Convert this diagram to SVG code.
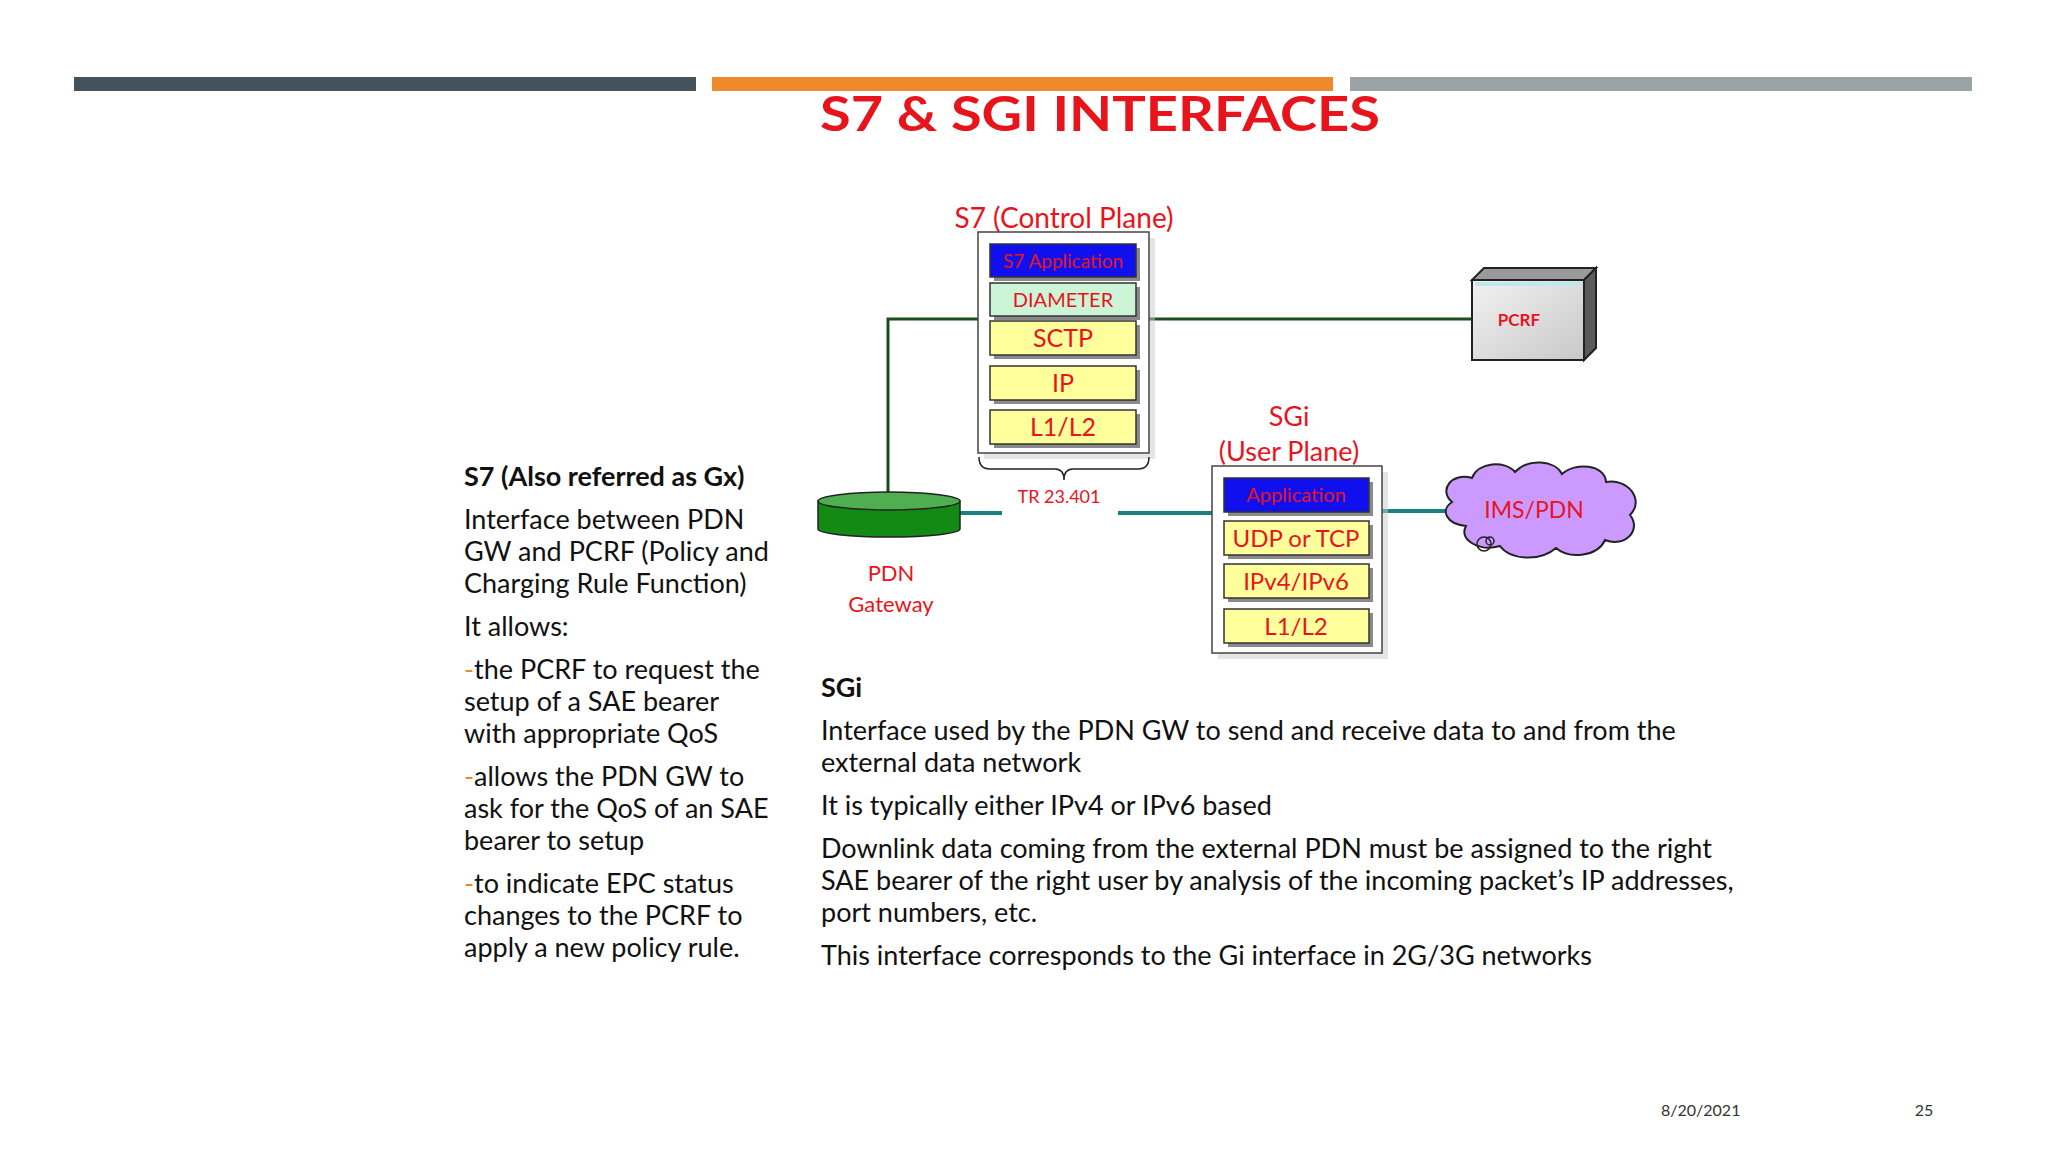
<svg xmlns="http://www.w3.org/2000/svg" width="2048" height="1152" viewBox="0 0 2048 1152">
<defs>
<style>
text{font-family:Lato,"Liberation Sans",sans-serif}
.red{fill:#e8141c}
.body{font-size:27px;fill:#111}
.dash{fill:#e8892b}
.lay{stroke:#333;stroke-width:1.5}
.sh{fill:#8a8a8a}
.lt{fill:#e8141c;text-anchor:middle}
.outer{fill:#fff;stroke:#444;stroke-width:1.5}
</style>
<linearGradient id="pc" x1="0" y1="0" x2="1" y2="1"><stop offset="0" stop-color="#f2f2f2"/><stop offset="1" stop-color="#c8c8c8"/></linearGradient>
</defs>
<rect width="2048" height="1152" fill="#fff"/>
<rect x="74" y="77" width="622" height="14" fill="#44525c"/>
<rect x="712" y="77" width="621" height="14" fill="#ef8a2c"/>
<rect x="1350" y="77" width="622" height="14" fill="#9ba3a7"/>
<text x="1100" y="131" text-anchor="middle" font-size="48" font-weight="bold" class="red" textLength="560" lengthAdjust="spacingAndGlyphs">S7 &amp; SGI INTERFACES</text>

<g id="connectors" fill="none">
<polyline points="978,319 888,319 888,494" stroke="#1d4d1d" stroke-width="3"/>
<line x1="1149" y1="319" x2="1480" y2="319" stroke="#1d4d1d" stroke-width="3"/>
<line x1="960" y1="513" x2="1002" y2="513" stroke="#1a8080" stroke-width="4"/>
<line x1="1118" y1="513" x2="1212" y2="513" stroke="#1a8080" stroke-width="4"/>
<line x1="1382" y1="511" x2="1447" y2="511" stroke="#1a8080" stroke-width="4"/>
</g>

<g id="s7stack">
<text x="1064" y="228" class="lt" style="font-size:28px">S7 (Control Plane)</text>
<rect x="984" y="238" width="171" height="221" fill="#ccc" opacity="0.5"/>
<rect x="978" y="232" width="171" height="221" class="outer"/>
<rect x="994" y="248" width="146" height="33" class="sh"/><rect x="990" y="244" width="146" height="33" fill="#1010ee" class="lay"/>
<text x="1063" y="268" class="lt" style="font-size:19px">S7 Application</text>
<rect x="994" y="287" width="146" height="33" class="sh"/><rect x="990" y="283" width="146" height="33" fill="#ccf5d8" class="lay"/>
<text x="1063" y="307" class="lt" style="font-size:20px">DIAMETER</text>
<rect x="994" y="325" width="146" height="34" class="sh"/><rect x="990" y="321" width="146" height="34" fill="#ffff9c" class="lay"/>
<text x="1063" y="347" class="lt" style="font-size:25px">SCTP</text>
<rect x="994" y="370" width="146" height="34" class="sh"/><rect x="990" y="366" width="146" height="34" fill="#ffff9c" class="lay"/>
<text x="1063" y="392" class="lt" style="font-size:25px">IP</text>
<rect x="994" y="414" width="146" height="34" class="sh"/><rect x="990" y="410" width="146" height="34" fill="#ffff9c" class="lay"/>
<text x="1063" y="436" class="lt" style="font-size:25px">L1/L2</text>
<path d="M979,457 Q979,469 990,469 L1055,469 Q1064,469 1064,480 Q1064,469 1073,469 L1138,469 Q1149,469 1149,457" fill="none" stroke="#222" stroke-width="1.5"/>
<text x="1059" y="503" class="lt" style="font-size:18px">TR 23.401</text>
</g>

<g id="pcrf">
<polygon points="1472,280 1484,268 1596,268 1584,280" fill="#9a9a9a" stroke="#222" stroke-width="2"/>
<polygon points="1584,280 1596,268 1596,348 1584,360" fill="#5a5a5a" stroke="#222" stroke-width="2"/>
<rect x="1472" y="280" width="112" height="80" fill="url(#pc)" stroke="#222" stroke-width="2"/>
<rect x="1475" y="282" width="106" height="4" fill="#bfe8ee"/>
<text x="1519" y="326" class="lt" style="font-size:17px;font-weight:bold">PCRF</text>
</g>

<g id="pdngw">
<path d="M818,501 L818,529 A71,8 0 0 0 960,529 L960,501 Z" fill="#138a13" stroke="#222" stroke-width="1.5"/>
<ellipse cx="889" cy="501" rx="71" ry="9" fill="#4fae4f" stroke="#222" stroke-width="1.5"/>
<text x="891" y="581" class="lt" style="font-size:22px">PDN</text>
<text x="891" y="612" class="lt" style="font-size:22px">Gateway</text>
</g>

<g id="sgistack">
<text x="1289" y="426" class="lt" style="font-size:27px">SGi</text>
<text x="1289" y="461" class="lt" style="font-size:27px">(User Plane)</text>
<rect x="1218" y="472" width="170" height="187" fill="#ccc" opacity="0.5"/>
<rect x="1212" y="466" width="170" height="187" class="outer"/>
<rect x="1228" y="482" width="145" height="34" class="sh"/><rect x="1224" y="478" width="145" height="34" fill="#1010ee" class="lay"/>
<text x="1296" y="502" class="lt" style="font-size:20px">Application</text>
<rect x="1228" y="525" width="145" height="34" class="sh"/><rect x="1224" y="521" width="145" height="34" fill="#ffff9c" class="lay"/>
<text x="1296" y="547" class="lt" style="font-size:24px">UDP or TCP</text>
<rect x="1228" y="568" width="145" height="34" class="sh"/><rect x="1224" y="564" width="145" height="34" fill="#ffff9c" class="lay"/>
<text x="1296" y="590" class="lt" style="font-size:24px">IPv4/IPv6</text>
<rect x="1228" y="613" width="145" height="34" class="sh"/><rect x="1224" y="609" width="145" height="34" fill="#ffff9c" class="lay"/>
<text x="1296" y="635" class="lt" style="font-size:24px">L1/L2</text>
</g>

<g id="cloud">
<path d="M1452,502 C1438,490 1452,472 1472,478 C1478,462 1505,460 1515,472 C1528,458 1555,460 1562,474 C1575,462 1605,464 1606,482 C1628,478 1645,500 1630,515 C1642,530 1625,548 1605,540 C1598,556 1570,560 1556,548 C1540,562 1510,560 1500,546 C1480,552 1458,540 1466,526 C1446,524 1440,510 1452,502 Z" fill="#cc99ff" stroke="#222" stroke-width="2"/>
<circle cx="1484" cy="544" r="7" fill="none" stroke="#222" stroke-width="1.5"/>
<circle cx="1490" cy="541" r="4" fill="none" stroke="#222" stroke-width="1.5"/>
<text x="1534" y="518" class="lt" style="font-size:23px">IMS/PDN</text>
</g>

<g id="lefttext" class="body">
<text x="464" y="486" font-weight="bold">S7 (Also referred as Gx)</text>
<text x="464" y="529">Interface between PDN</text>
<text x="464" y="561">GW and PCRF (Policy and</text>
<text x="464" y="593">Charging Rule Function)</text>
<text x="464" y="636">It allows:</text>
<text x="464" y="679"><tspan class="dash">-</tspan>the PCRF to request the</text>
<text x="464" y="711">setup of a SAE bearer</text>
<text x="464" y="743">with appropriate QoS</text>
<text x="464" y="786"><tspan class="dash">-</tspan>allows the PDN GW to</text>
<text x="464" y="818">ask for the QoS of an SAE</text>
<text x="464" y="850">bearer to setup</text>
<text x="464" y="893"><tspan class="dash">-</tspan>to indicate EPC status</text>
<text x="464" y="925">changes to the PCRF to</text>
<text x="464" y="957">apply a new policy rule.</text>
</g>

<g id="sgitext" class="body">
<text x="821" y="697" font-weight="bold">SGi</text>
<text x="821" y="740">Interface used by the PDN GW to send and receive data to and from the</text>
<text x="821" y="772">external data network</text>
<text x="821" y="815">It is typically either IPv4 or IPv6 based</text>
<text x="821" y="858">Downlink data coming from the external PDN must be assigned to the right</text>
<text x="821" y="890">SAE bearer of the right user by analysis of the incoming packet’s IP addresses,</text>
<text x="821" y="922">port numbers, etc.</text>
<text x="821" y="965">This interface corresponds to the Gi interface in 2G/3G networks</text>
</g>

<text x="1661" y="1116" font-size="16" fill="#333">8/20/2021</text>
<text x="1924" y="1116" font-size="16" fill="#333" text-anchor="middle">25</text>
</svg>
